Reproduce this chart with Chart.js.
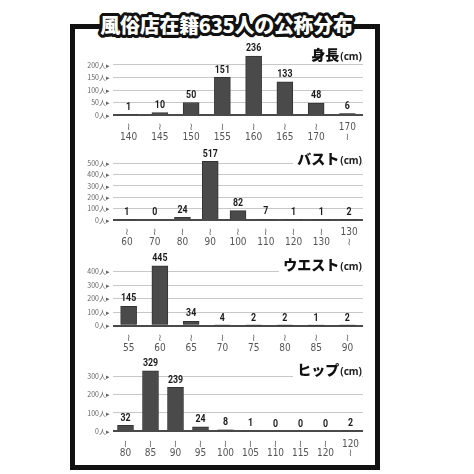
<!DOCTYPE html>
<html>
<head>
<meta charset="utf-8">
<script src="https://cdn.jsdelivr.net/npm/chart.js@4"></script>
<style>
  body { margin: 0; background: #fff; }
  #wrap { position: relative; width: 474px; height: 474px; overflow: hidden; background: #fff; }
  #frame { position: absolute; left: 70px; top: 24px; width: 310px; height: 446px; border: 5px solid #111; box-sizing: border-box; }
  #title { position: absolute; left: 80px; top: 10px; width: 293px; text-align: center; font: 900 20px "Noto Sans CJK JP", sans-serif; line-height: 30px; color: #fff; letter-spacing: -0.3px; }
  canvas { position: absolute; left: 60px; }
  .ptitle { position: absolute; right: 112px; height: 18px; line-height: 18px; padding-left: 4px; background: #fff; color: #111; font: 900 14px "Noto Sans CJK JP", sans-serif; white-space: nowrap; }
  .ptitle small { font: bold 10px "Noto Sans", sans-serif; color: #222; margin-left: 1px; }
</style>
</head>
<body>
<div id="wrap">
  <div id="frame"></div>
  <div id="title">風俗店在籍635人の公称分布</div>
  <canvas id="c1"></canvas>
  <canvas id="c2"></canvas>
  <canvas id="c3"></canvas>
  <canvas id="c4"></canvas>
  <div class="ptitle" style="top:44px">身長<small>(cm)</small></div>
  <div class="ptitle" style="top:148px">バスト<small>(cm)</small></div>
  <div class="ptitle" style="top:254px">ウエスト<small>(cm)</small></div>
  <div class="ptitle" style="top:359px">ヒップ<small>(cm)</small></div>
</div>
<script>
// 身長
const heightLabels = [['≀','140'],['≀','145'],['≀','150'],['≀','155'],['≀','160'],['≀','165'],['≀','170'],['170','≀']];
const heightCounts = [1, 10, 50, 151, 236, 133, 48, 6];
// バスト
const bustLabels = [['≀','60'],['≀','70'],['≀','80'],['≀','90'],['≀','100'],['≀','110'],['≀','120'],['≀','130'],['130','≀']];
const bustCounts = [1, 0, 24, 517, 82, 7, 1, 1, 2];
// ウエスト
const waistLabels = [['≀','55'],['≀','60'],['≀','65'],['≀','70'],['≀','75'],['≀','80'],['≀','85'],['≀','90']];
const waistCounts = [145, 445, 34, 4, 2, 2, 1, 2];
// ヒップ
const hipLabels = [['≀','80'],['≀','85'],['≀','90'],['≀','95'],['≀','100'],['≀','105'],['≀','110'],['≀','115'],['≀','120'],['120','≀']];
const hipCounts = [32, 329, 239, 24, 8, 1, 0, 0, 0, 2];

// value labels over each bar, squeezed to look condensed
const valueLabels = {
  id: 'valueLabels',
  afterDatasetsDraw(chart) {
    const c = chart.ctx;
    const meta = chart.getDatasetMeta(0);
    meta.data.forEach((bar, i) => {
      c.save();
      c.font = 'bold 11px "Roboto", sans-serif';
      c.fillStyle = '#1a1a1a';
      c.textAlign = 'center';
      c.textBaseline = 'bottom';
      c.translate(bar.x, bar.y - 2);
      c.scale(0.8, 1);
      c.fillText(chart.data.datasets[0].data[i], 0, 0);
      c.restore();
    });
  }
};

function draw(id, labels, counts, step, lastTick, yMax, zeroY, unitPx) {
  const canvas = document.getElementById(id);
  const area = yMax * unitPx;
  const padTop = 14;
  const h = Math.ceil(padTop + area + 30);
  canvas.width = 310;
  canvas.height = h;
  canvas.style.top = (zeroY - area - padTop) + 'px';
  new Chart(canvas, {
    type: 'bar',
    data: {
      labels: labels,
      datasets: [{
        data: counts,
        backgroundColor: '#4a4a4a',
        borderColor: '#333',
        borderWidth: 1,
        barThickness: 16
      }]
    },
    options: {
      responsive: false,
      animation: false,
      layout: { padding: { top: padTop, right: 7, left: 0, bottom: 0 } },
      plugins: { legend: { display: false }, tooltip: { enabled: false } },
      scales: {
        x: {
          grid: { display: false },
          border: { display: false },
          ticks: {
            color: '#555',
            padding: 0,
            font: { family: '"DejaVu Sans Condensed", "DejaVu Sans", sans-serif', size: 10, lineHeight: 0.95 },
            maxRotation: 0,
            autoSkip: false
          },
          afterFit: s => { s.height = h - padTop - area; }
        },
        y: {
          min: 0,
          max: yMax,
          border: { display: false },
          grid: {
            drawTicks: false,
            color: t => t.tick && t.tick.value === 0 ? '#4a4a4a' : '#c8c8c8',
            lineWidth: t => t.tick && t.tick.value === 0 ? 2 : 1
          },
          ticks: {
            stepSize: step,
            padding: 3,
            color: '#666',
            font: { family: '"Noto Sans CJK JP", sans-serif', size: 7 },
            callback: v => v + '人▸'
          },
          afterBuildTicks: s => { s.ticks = s.ticks.filter(t => t.value <= lastTick); },
          afterFit: s => { s.width = 53; }
        }
      }
    },
    plugins: [valueLabels]
  });
}

draw('c1', heightLabels, heightCounts, 50, 200, 260, 115, 0.25);
draw('c2', bustLabels, bustCounts, 100, 500, 600, 220, 0.1133);
draw('c3', waistLabels, waistCounts, 100, 400, 480, 326, 0.135);
draw('c4', hipLabels, hipCounts, 100, 300, 360, 431, 0.1843);

// outline for the white heading
const t = document.getElementById('title');
let sh = [];
for (let a = 0; a < 16; a++) {
  const r = a * Math.PI / 8;
  sh.push((3 * Math.cos(r)).toFixed(1) + 'px ' + (3 * Math.sin(r)).toFixed(1) + 'px 0 #111');
}
t.style.textShadow = sh.join(',');
</script>
</body>
</html>
